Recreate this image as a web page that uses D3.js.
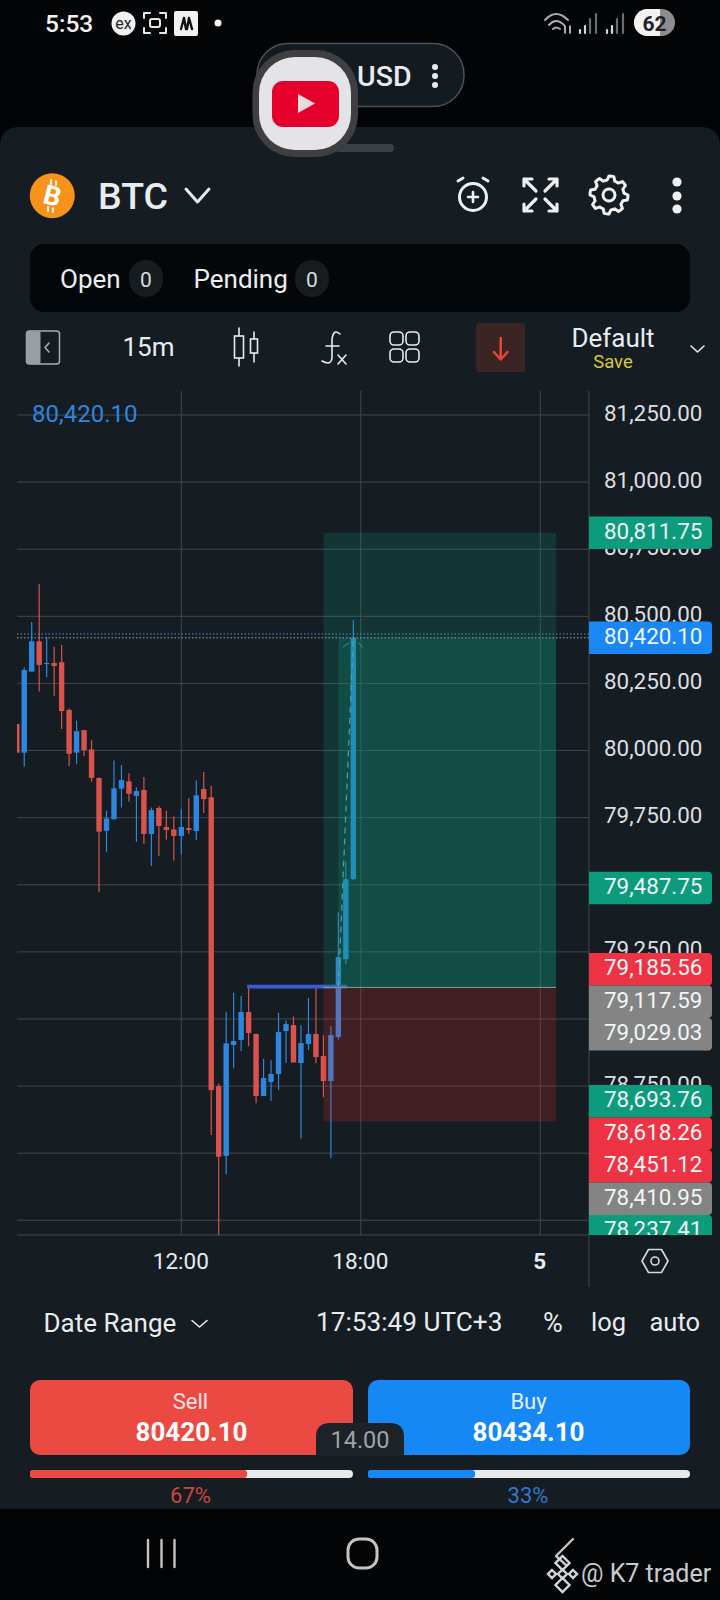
<!DOCTYPE html>
<html>
<head>
<meta charset="utf-8">
<script src="https://cdn.jsdelivr.net/npm/d3@7"></script>
<style>
  html, body { margin: 0; padding: 0; background: #020406; }
  svg { display: block; }
  text { font-family: Roboto, "Noto Sans", sans-serif; }
</style>
</head>
<body>
<div id="chart"></div>
<script>
// candles, 15m, oldest first. index 22 = 12:00
var opens = [80099,79992,80294,80407,80322,80326,80329,80151,79992,80076,80004,79898,79701,79744,79858,79885,79831,79853,79689,79786,79715,79706,79682,79711,79700,79857,79826,78750,78490,78903,78922,79026,78944,78713,78765,78795,78955,78977,78836,78907,78944,78862,78769,78933,79223,79521];
var highs = [80099,80310,80479,80620,80422,80387,80393,80157,80111,80076,80039,79900,79776,79963,79946,79915,79863,79901,79788,79793,79776,79754,79781,79823,79888,79920,79869,78760,79027,79098,79086,79120,78946,78852,78847,79023,78994,79009,78977,79079,79120,78940,78974,79397,79586,80486];
var lows = [79992,79940,80294,80220,80273,80204,80080,79942,79950,79980,79884,79472,79621,79744,79788,79810,79660,79652,79570,79607,79669,79590,79614,79689,79667,79767,78568,78193,78422,78816,78881,78899,78686,78713,78694,78735,78837,78838,78555,78884,78835,78708,78481,78924,79205,79518];
var closes = [79992,80300,80407,80319,80326,80315,80147,79988,80072,80002,79898,79698,79747,79859,79890,79839,79849,79689,79778,79719,79704,79682,79715,79704,79833,79819,78735,78487,78909,78918,79026,78948,78713,78780,78795,78951,78981,78838,78910,78944,78858,78769,78940,79231,79521,80420];

var priceTicks = [81250,81000,80750,80500,80250,80000,79750,79500,79250,79000,78750,78500,78250];
// the other tick labels sit fully behind price tags
var priceLabelTicks = [81250,81000,80750,80500,80250,80000,79750,79250,78750];
var timeTickIndex = [22,46,70];
var timeTickLabels = ["12:00","18:00","5"];

// price tags on the axis, top to bottom
var tagPrices = [80811.75,79487.75,79185.56,79117.59,79029.03,78693.76,78618.26,78451.12,78410.95,78237.41];
var tagKinds = ["g","g","r","n","n","g","r","r","n","g"];
var tagColors = {g:"#0d9b7d", r:"#ee3344", n:"#848484", b:"#1a87f5"};

var lastPrice = 80420.10, askPrice = 80434.10;
var targetPrice = 80811.75, entryPrice = 79117.59, stopPrice = 78618.26;
var entryFrom = 30.8, entryTo = 44.2, boxFrom = 41, boxTo = 72.1;

var panelBg = "#151c22", gridCol = "#42484e", upCol = "#2e86de", downCol = "#d9534c";

var svg = d3.select("#chart").append("svg").attr("width", 720).attr("height", 1600);

function label(g, x, y, str, size, fill, anchor, weight) {
  return g.append("text").attr("x", x).attr("y", y).text(str)
    .attr("font-size", size).attr("fill", fill)
    .attr("text-anchor", anchor || "start")
    .attr("font-weight", weight || 400);
}
function stroke(g, d, col, w) {
  return g.append("path").attr("d", d).attr("fill", "none").attr("stroke", col)
    .attr("stroke-width", w).attr("stroke-linecap", "round").attr("stroke-linejoin", "round");
}
function box(g, x, y, w, h, r, fill) {
  return g.append("rect").attr("x", x).attr("y", y).attr("width", w).attr("height", h).attr("rx", r).attr("fill", fill);
}

// ---- panel
svg.append("rect").attr("width", 720).attr("height", 1600).attr("fill", "#020406");
svg.append("path").attr("d", "M0 1509V147Q0 127 20 127H700Q720 127 720 147V1509Z").attr("fill", panelBg);

// ---- status bar
var top_ = svg.append("g");
label(top_, 45, 32, "5:53", 24.5, "#f2f2f2", "start", 500);
top_.append("circle").attr("cx", 123.5).attr("cy", 23.5).attr("r", 12).attr("fill", "#f2f2f2");
label(top_, 123.5, 29, "ex", 16, "#222", "middle");
stroke(top_, "M144 18V13H150M160 13H166V18M166 28V33H160M150 33H144V28", "#e8e8e8", 2);
top_.append("rect").attr("x", 150).attr("y", 19).attr("width", 10).attr("height", 8).attr("rx", 2).attr("fill", "none").attr("stroke", "#e8e8e8").attr("stroke-width", 2);
box(top_, 174, 11, 24, 25, 2, "#f2f2f2");
stroke(top_, "M181 29L184 18L186 29M187 29L189 18L192 29", "#111", 2.4);
top_.append("circle").attr("cx", 218).attr("cy", 23).attr("r", 3.5).attr("fill", "#f2f2f2");
stroke(top_, "M545 20Q556 8 568 20M549 25Q556 17 564 25M553 29Q556 26 560 29", "#a9adb0", 2);
stroke(top_, "M565 26V33M570 33V26", "#d8d8d8", 1.6);
[[580,30,33],[585,26,33],[590,19,33],[596,14,33],[607,30,33],[612,26,33],[617,19,33],[623,14,33]].forEach(function (b, i) {
  stroke(top_, "M" + b[0] + " " + b[1] + "V" + b[2], (i % 4) < 2 ? "#d8d8d8" : "#6a6d70", 2.2);
});
box(top_, 634, 9, 41, 27, 13.5, "#8d8d8d");
top_.append("path").attr("d", "M660 9H647.5A13.5 13.5 0 0 0 647.5 36H660Z").attr("fill", "#f2f2f2");
label(top_, 654.5, 31, "62", 21, "#222", "middle", 700);

// ---- symbol pill with floating youtube bubble
var pill = svg.append("g");
pill.append("rect").attr("x", 257).attr("y", 43.5).attr("width", 207).attr("height", 63).attr("rx", 31)
  .attr("fill", "#131a20").attr("stroke", "#4b5156").attr("stroke-width", 1.5);
label(pill, 357, 86, "USD", 28.5, "#e8ecf0", "start", 500);
[67,76,85].forEach(function (cy) { pill.append("circle").attr("cx", 435).attr("cy", cy).attr("r", 3).attr("fill", "#e8ecf0"); });
box(pill, 335, 144, 59, 8, 4, "#3a4146");
box(pill, 252.5, 50, 105.5, 107, 42, "#3f3f42");
box(pill, 259, 57, 92, 93, 36, "#e4e4e6");
box(pill, 272, 81, 67, 46, 11, "#e4002b");
pill.append("path").attr("d", "M298 94L315 103.5L298 113Z").attr("fill", "#e8dcdc");

// ---- header row
var head = svg.append("g");
head.append("circle").attr("cx", 52.3).attr("cy", 195.7).attr("r", 22.5).attr("fill", "#f7931a");
label(head, 52.3, 205, "B", 27, "#fff", "middle", 700).attr("transform", "rotate(14 52.3 196)");
stroke(head, "M51 180V184M56 181V185M48 207V211M53 208V212", "#fff", 1.8);
label(head, 98, 209, "BTC", 37.5, "#e8ecf0", "start", 500);
stroke(head, "M186 189L197.5 202L209 189", "#e8ecf0", 3);
// alarm
head.append("circle").attr("cx", 473).attr("cy", 197).attr("r", 13.5).attr("fill", "none").attr("stroke", "#f0f0f0").attr("stroke-width", 3);
stroke(head, "M468 197H478M473 192V202", "#f0f0f0", 2.6);
stroke(head, "M458 181L463 178M488 181L483 178", "#f0f0f0", 3);
// full screen
stroke(head, "M524 186V179H532M524 179L536 191M557 186V179H549M557 179L545 191M524 204V211H532M524 211L536 199M557 204V211H549M557 211L545 199", "#f0f0f0", 3.2);
// gear
var gearPts = d3.range(0, 48).map(function (i) {
  var a = i / 48 * 2 * Math.PI, r = (i % 6 < 3) ? 19 : 15;
  return [a, r];
});
head.append("path").attr("d", d3.lineRadial().curve(d3.curveLinearClosed)(gearPts)).attr("transform", "translate(609,195)")
  .attr("fill", "none").attr("stroke", "#f0f0f0").attr("stroke-width", 3).attr("stroke-linejoin", "round");
head.append("circle").attr("cx", 609).attr("cy", 195).attr("r", 6).attr("fill", "none").attr("stroke", "#f0f0f0").attr("stroke-width", 3);
[182,196,209].forEach(function (cy) { head.append("circle").attr("cx", 677).attr("cy", cy).attr("r", 4.6).attr("fill", "#f0f0f0"); });

// ---- open / pending box
var orders = svg.append("g");
box(orders, 30, 244, 660, 68, 14, "#040709");
label(orders, 60, 288, "Open", 26, "#eceff2");
box(orders, 129, 260, 34, 37, 17, "#171c20");
label(orders, 146, 287, "0", 21, "#d8dcdf", "middle");
label(orders, 193.5, 288, "Pending", 26, "#eceff2");
box(orders, 295, 260, 34, 37, 17, "#171c20");
label(orders, 312, 287, "0", 21, "#d8dcdf", "middle");

// ---- toolbar
var bar = svg.append("g");
box(bar, 26.5, 331, 33, 33, 3, "none").attr("stroke", "#a8acb0").attr("stroke-width", 1.5);
box(bar, 26.5, 331, 14, 33, 2, "#9a9ea2");
stroke(bar, "M49 343L45 347.5L49 352", "#a8acb0", 1.6);
label(bar, 122.5, 356, "15m", 26, "#e8ecf0");
stroke(bar, "M239 328V366M254 332V362", "#e8ecf0", 1.6);
bar.append("rect").attr("x", 234.5).attr("y", 336).attr("width", 9).attr("height", 22).attr("fill", panelBg).attr("stroke", "#e8ecf0").attr("stroke-width", 1.6);
bar.append("rect").attr("x", 250.5).attr("y", 339).attr("width", 7).attr("height", 14).attr("fill", panelBg).attr("stroke", "#e8ecf0").attr("stroke-width", 1.6);
stroke(bar, "M340 334Q333 328 332 340V358Q331 366 322 361M326 346H339", "#e8ecf0", 1.6);
stroke(bar, "M338 355L346 364M346 355L338 364", "#e8ecf0", 1.6);
[[390,332],[406,332],[390,349],[406,349]].forEach(function (p) {
  bar.append("rect").attr("x", p[0]).attr("y", p[1]).attr("width", 13).attr("height", 13).attr("rx", 4)
    .attr("fill", "none").attr("stroke", "#e8ecf0").attr("stroke-width", 1.6);
});
box(bar, 476, 323, 49, 49, 3, "#3a2424");
stroke(bar, "M500.7 338V359M494 352L500.7 359.5L507.5 352", "#e8453a", 2.5);
label(bar, 613, 347, "Default", 26, "#e8ecf0", "middle");
label(bar, 613, 368, "Save", 18.5, "#d9c93c", "middle");
stroke(bar, "M691 346L697.5 352L704 346", "#e8ecf0", 1.6);

// ---- chart
var plot = {left: 17, right: 589, top: 391, bottom: 1235};
var y = d3.scaleLinear().domain([81250, 78250]).range([415, 1220.3]);
var x = d3.scaleLinear().domain([22, 70]).range([181.3, 540.3]);

svg.append("defs").append("clipPath").attr("id", "plotClip").append("rect")
  .attr("x", plot.left).attr("y", plot.top).attr("width", plot.right - plot.left).attr("height", plot.bottom - plot.top);

var gridG = svg.append("g");
gridG.selectAll(".h").data(priceTicks).enter().append("line")
  .attr("x1", plot.left).attr("x2", plot.right)
  .attr("y1", function (d) { return y(d); }).attr("y2", function (d) { return y(d); })
  .attr("stroke", gridCol).attr("stroke-width", 1);
gridG.selectAll(".v").data(timeTickIndex).enter().append("line")
  .attr("x1", function (d) { return x(d); }).attr("x2", function (d) { return x(d); })
  .attr("y1", plot.top).attr("y2", plot.bottom)
  .attr("stroke", gridCol).attr("stroke-width", 1);
gridG.append("line").attr("x1", plot.left).attr("x2", plot.right).attr("y1", plot.bottom).attr("y2", plot.bottom).attr("stroke", gridCol);
gridG.append("line").attr("x1", plot.right).attr("x2", plot.right).attr("y1", plot.top).attr("y2", 1287).attr("stroke", gridCol);

label(svg, 32, 422, d3.format(",.2f")(lastPrice), 24, "#2e86de");

var chartG = svg.append("g").attr("clip-path", "url(#plotClip)");

// wicks and bodies
var candles = chartG.selectAll(".candle").data(d3.range(opens.length)).enter().append("g");
candles.append("line")
  .attr("x1", function (i) { return x(i); }).attr("x2", function (i) { return x(i); })
  .attr("y1", function (i) { return y(highs[i]); }).attr("y2", function (i) { return y(lows[i]); })
  .attr("stroke-width", 1.2)
  .attr("stroke", function (i) { return closes[i] >= opens[i] ? upCol : downCol; });
candles.append("rect")
  .attr("x", function (i) { return x(i) - 2.7; }).attr("width", 5.4)
  .attr("y", function (i) { return y(Math.max(opens[i], closes[i])); })
  .attr("height", function (i) { return Math.max(1, Math.abs(y(opens[i]) - y(closes[i]))); })
  .attr("fill", function (i) { return closes[i] >= opens[i] ? upCol : downCol; });

// entry line
chartG.append("line").attr("x1", x(entryFrom)).attr("x2", x(entryTo))
  .attr("y1", y(entryPrice) - 0.8).attr("y2", y(entryPrice) - 0.8)
  .attr("stroke", "#3b5cd6").attr("stroke-width", 3.6);

// long position box, on top of the candles
chartG.append("rect").attr("x", x(boxFrom)).attr("width", x(boxTo) - x(boxFrom))
  .attr("y", y(targetPrice)).attr("height", y(entryPrice) - y(targetPrice))
  .attr("fill", "#0d9b7d").attr("fill-opacity", 0.2);
chartG.append("rect").attr("x", x(43)).attr("width", x(boxTo) - x(43))
  .attr("y", y(lastPrice)).attr("height", y(entryPrice) - y(lastPrice))
  .attr("fill", "#0d9b7d").attr("fill-opacity", 0.23);
chartG.append("rect").attr("x", x(boxFrom)).attr("width", x(boxTo) - x(boxFrom))
  .attr("y", y(entryPrice)).attr("height", y(stopPrice) - y(entryPrice))
  .attr("fill", "#f03434").attr("fill-opacity", 0.2);
chartG.append("line").attr("x1", x(boxFrom)).attr("x2", x(boxTo))
  .attr("y1", y(entryPrice)).attr("y2", y(entryPrice))
  .attr("stroke", "#8c9a9a").attr("stroke-width", 1);
chartG.append("line").attr("x1", x(43)).attr("x2", x(45))
  .attr("y1", y(entryPrice)).attr("y2", y(lastPrice))
  .attr("stroke", "#5f9c9c").attr("stroke-width", 1.2).attr("stroke-dasharray", "6 5");
stroke(chartG, "M343 647Q346 644 349 643M358 643Q361 644 362 647", "#4f8a88", 1);

// bid / ask dotted lines
chartG.append("line").attr("x1", plot.left).attr("x2", plot.right)
  .attr("y1", y(askPrice)).attr("y2", y(askPrice))
  .attr("stroke", "#3f8fe0").attr("stroke-dasharray", "1.5 2");
chartG.append("line").attr("x1", plot.left).attr("x2", plot.right)
  .attr("y1", y(lastPrice)).attr("y2", y(lastPrice))
  .attr("stroke", "#a9a4a4").attr("stroke-dasharray", "1.5 2");

// price axis
var yAxis = d3.axisRight(y).tickValues(priceLabelTicks).tickFormat(d3.format(",.2f")).tickSize(0).tickPadding(0);
var yAxisG = svg.append("g").attr("transform", "translate(604,0)").call(yAxis);
yAxisG.select(".domain").remove();
yAxisG.selectAll("text").attr("font-size", 22.4).attr("fill", "#dcdfe2").attr("dy", "5").attr("x", 0)
  .style("font-family", "Roboto");

// tags, pushed down when they would overlap like the app does
var tagH = 32.5, tagG = svg.append("g").attr("clip-path", "url(#tagClip)");
svg.select("defs").append("clipPath").attr("id", "tagClip").append("rect")
  .attr("x", plot.right).attr("y", 0).attr("width", 140).attr("height", plot.bottom);
function drawTag(price, col, cy) {
  tagG.append("path")
    .attr("d", "M" + plot.right + " " + (cy - tagH / 2) + "H708a4 4 0 0 1 4 4V" + (cy + tagH / 2 - 4) + "a4 4 0 0 1 -4 4H" + plot.right + "Z")
    .attr("fill", col);
  label(tagG, 604, cy + 6, d3.format(",.2f")(price), 22.4, "#eef6f6");
}
var lastBottom = -1000;
tagPrices.forEach(function (p, i) {
  var cy = Math.max(y(p), lastBottom + tagH / 2);
  drawTag(p, tagColors[tagKinds[i]], cy);
  lastBottom = cy + tagH / 2;
});
drawTag(lastPrice, tagColors.b, y(lastPrice));

// time axis
var xAxis = d3.axisBottom(x).tickValues(timeTickIndex)
  .tickFormat(function (d, i) { return timeTickLabels[i]; }).tickSize(0).tickPadding(0);
var xAxisG = svg.append("g").attr("transform", "translate(-1,1253)").call(xAxis);
xAxisG.select(".domain").remove();
xAxisG.selectAll("text").attr("font-size", 22.5).attr("fill", "#e8ecf0").attr("dy", "16")
  .style("font-family", "Roboto")
  .attr("font-weight", function (d, i) { return timeTickLabels[i] == "5" ? 700 : 400; });

// scale settings icon
var hexG = svg.append("g");
stroke(hexG, "M642 1261L648.5 1249.5H661.5L668 1261L661.5 1272.5H648.5Z", "#d8dcdf", 1.6);
hexG.append("circle").attr("cx", 655).attr("cy", 1261).attr("r", 4).attr("fill", "none").attr("stroke", "#d8dcdf").attr("stroke-width", 1.6);

// ---- date range row
var range = svg.append("g");
label(range, 43.5, 1331.5, "Date Range", 26, "#e8ecf0");
stroke(range, "M192 1320.5L199.5 1327L207 1320.5", "#e8ecf0", 1.6);
label(range, 316, 1330.5, "17:53:49 UTC+3", 26.2, "#e8ecf0");
label(range, 543, 1332, "%", 27, "#e8ecf0");
label(range, 591, 1331, "log", 25.5, "#e8ecf0");
label(range, 649.5, 1331, "auto", 25.5, "#e8ecf0");

// ---- buy / sell
var trade = svg.append("g");
box(trade, 30, 1380, 323, 75, 10, "#ea4a42");
box(trade, 368, 1380, 322, 75, 10, "#1688f5");
label(trade, 190.5, 1409, "Sell", 22, "#f6e4e2", "middle");
label(trade, 191.5, 1441, "80420.10", 26, "#fff", "middle", 700);
label(trade, 528.5, 1409, "Buy", 22, "#e4f0fb", "middle");
label(trade, 528.5, 1441, "80434.10", 26, "#fff", "middle", 700);
trade.append("path").attr("d", "M316 1456V1437Q316 1423 330 1423H390Q404 1423 404 1437V1456Z").attr("fill", "#1c2228");
label(trade, 360, 1448, "14.00", 23.5, "#9fa4a8", "middle");
box(trade, 30, 1470, 323, 8, 4, "#e8eaec");
box(trade, 368, 1470, 322, 8, 4, "#e8eaec");
box(trade, 30, 1470, 217, 8, 3, "#ea4a42");
box(trade, 368, 1470, 107, 8, 3, "#1688f5");
label(trade, 190.5, 1503, "67%", 22, "#c9483f", "middle");
label(trade, 528, 1503, "33%", 22, "#2f78d0", "middle");

// ---- navigation bar and watermark
var nav = svg.append("g");
stroke(nav, "M148 1540V1567M161.5 1540V1567M174.5 1540V1567", "#c4c4c4", 2.4);
nav.append("rect").attr("x", 348).attr("y", 1539).attr("width", 29).attr("height", 29).attr("rx", 11)
  .attr("fill", "none").attr("stroke", "#c4c4c4").attr("stroke-width", 3);
stroke(nav, "M573 1539L556 1556L566 1565", "#c4c4c4", 2.4);
[[562.5,1563,7],[552,1574,4],[573,1574,4],[562.5,1574,4.5],[562.5,1585,7]].forEach(function (d) {
  nav.append("path").attr("d", "M" + d[0] + " " + (d[1] - d[2]) + "L" + (d[0] + d[2]) + " " + d[1] + "L" + d[0] + " " + (d[1] + d[2]) + "L" + (d[0] - d[2]) + " " + d[1] + "Z")
    .attr("fill", "none").attr("stroke", "#d4d8dc").attr("stroke-width", 2.4);
});
label(nav, 581, 1582, "@ K7 trader", 25, "#c8ccd0");
</script>
</body>
</html>
